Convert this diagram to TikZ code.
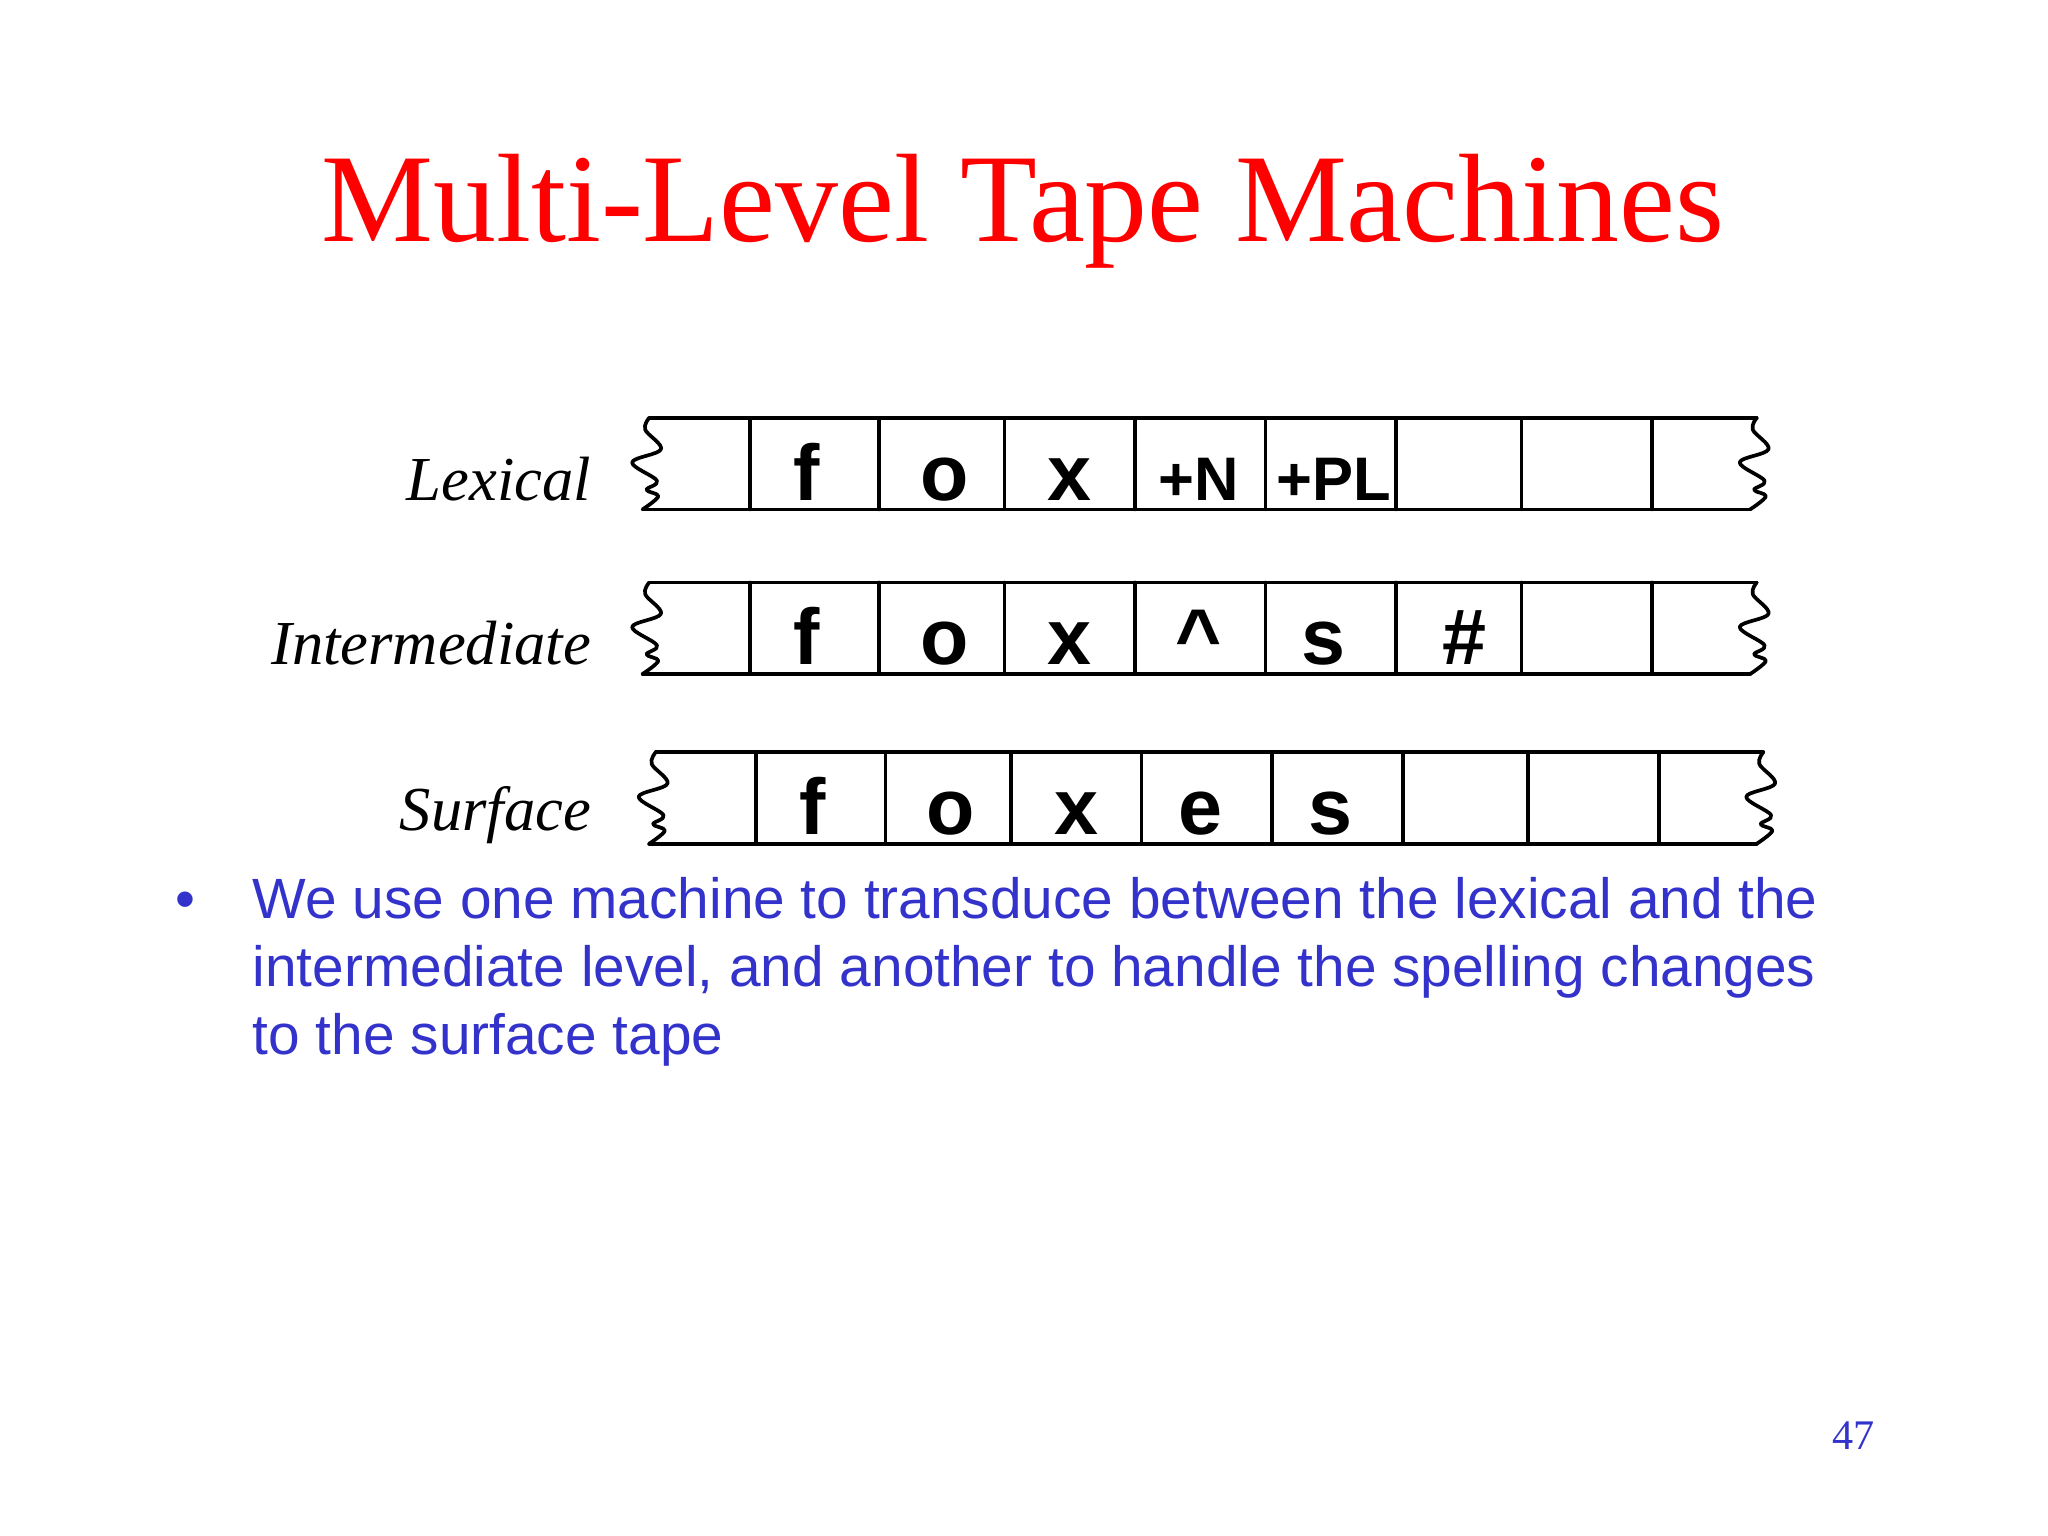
\documentclass[tikz,border=0pt]{standalone}
\usepackage{fontspec}
\setmainfont{Liberation Serif}
\newfontfamily\sansf{Liberation Sans}
\definecolor{titlered}{RGB}{255,0,0}
\definecolor{bodyblue}{RGB}{51,51,204}
\tikzset{
  tapeline/.style={line width=1.05pt, line join=round, line cap=round},
  cellsym/.style={font=\sansf\bfseries\fontsize{22.5}{22.5}\selectfont, anchor=base, inner sep=0pt},
  cellsmall/.style={font=\sansf\bfseries\fontsize{17.5}{17.5}\selectfont, anchor=base, inner sep=0pt},
  levellabel/.style={font=\fontsize{17.8}{20}\selectfont\itshape, anchor=base east, inner sep=0pt},
  bodytext/.style={font=\sansf\fontsize{16.16}{19}\selectfont, text=bodyblue, anchor=base west, inner sep=0pt},
}
\newcommand{\squigglepath}{plot[smooth, tension=0.6] coordinates {(0,0) (-3,9) (9,24) (-13,34) (6,48) (-2,55) (7,60) (-5,70)}}
% #1 prefix, #2 x of top-left corner, #3 y of top
\newcommand{\drawtape}[3]{%
  \begin{scope}[shift={(#2,#3)}]
    \coordinate (#1-tl) at (0,0);
    \coordinate (#1-bl) at (-5,70);
    \coordinate (#1-tr) at (848,0);
    \coordinate (#1-br) at (843,70);
    \draw[tapeline] (#1-tl) -- (#1-tr);
    \draw[tapeline] (#1-bl) -- (#1-br);
    \draw[tapeline] \squigglepath;
    \begin{scope}[shift={(848,0)}]
      \draw[tapeline] \squigglepath;
    \end{scope}
    \foreach \dx [count=\i] in {77,176,272,372,472,572,668,768}{
      \coordinate (#1-d\i t) at (\dx,0);
      \coordinate (#1-d\i b) at (\dx,70);
      \draw[tapeline] (#1-d\i t) -- (#1-d\i b);
    }
    \foreach \cx [count=\i] in {120.5,226,322,421,524,624}{
      \coordinate (#1-c\i) at (\cx,63);
    }
  \end{scope}}
\begin{document}
\begin{tikzpicture}[x=0.013061cm, y=-0.013061cm]
\useasboundingbox (0,0) rectangle (1568,1176);
\fill[white] (0,0) rectangle (1568,1176);

% title
\node[anchor=base, inner sep=0pt, text=titlered, font=\fontsize{35.8}{40}\selectfont] (title) at (783,185) {Multi-Level Tape Machines};

% tapes
\drawtape{lex}{497}{320}
\drawtape{int}{497}{446}
\drawtape{sur}{502}{576}

% level labels
\node[levellabel] (lexlabel) at (453,383) {Lexical};
\node[levellabel] (intlabel) at (453,509) {Intermediate};
\node[levellabel] (surlabel) at (453,636) {Surface};

% lexical symbols
\node[cellsym] (lex1) at (lex-c1) {f};
\node[cellsym] (lex2) at (lex-c2) {o};
\node[cellsym] (lex3) at (lex-c3) {x};
\node[cellsmall] (lex4) at (lex-c4) {+N};
\node[cellsmall] (lex5) at (lex-c5) {+PL};

% intermediate symbols
\node[cellsym] (int1) at (int-c1) {f};
\node[cellsym] (int2) at (int-c2) {o};
\node[cellsym] (int3) at (int-c3) {x};
\node[cellsym] (int4) at (int-c4) {\^{}};
\node[cellsym, xshift=-0.1cm] (int5) at (int-c5) {s};
\node[cellsym] (int6) at (int-c6) {\#};

% surface symbols
\node[cellsym] (sur1) at (sur-c1) {f};
\node[cellsym] (sur2) at (sur-c2) {o};
\node[cellsym] (sur3) at (sur-c3) {x};
\node[cellsym, xshift=-0.05cm] (sur4) at (sur-c4) {e};
\node[cellsym, xshift=-0.1cm] (sur5) at (sur-c5) {s};

% bullet text
\node[anchor=base, inner sep=0pt, text=bodyblue, font=\sansf\fontsize{16.16}{19}\selectfont] (bullet) at (142,703) {\textbullet};
\node[bodytext] (line1) at (193,703) {We use one machine to transduce between the lexical and the};
\node[bodytext] (line2) at (193,755) {intermediate level, and another to handle the spelling changes};
\node[bodytext] (line3) at (193,807) {to the surface tape};

% page number
\node[anchor=base, inner sep=0pt, text=bodyblue, font=\fontsize{12}{14}\selectfont] (pagenum) at (1419,1110) {47};
\end{tikzpicture}
\end{document}
